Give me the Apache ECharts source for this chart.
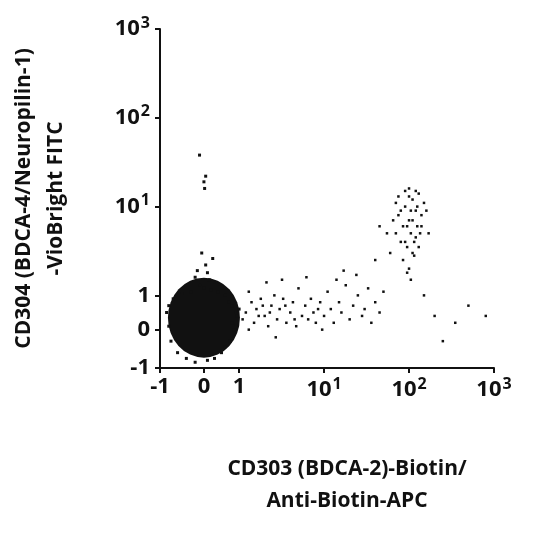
<!DOCTYPE html>
<html>
<head>
<meta charset="utf-8">
<script src="https://cdn.jsdelivr.net/npm/echarts@6/dist/echarts.min.js"></script>
<style>html,body{margin:0;background:#fff}#c{width:540px;height:540px}</style>
</head>
<body>
<div id="c"></div>
<script>
// tick values (real units), shown on biexponential-like axes
var xTicks = [-1, 0, 1, 10, 100, 1000];
var yTicks = [-1, 0, 1, 10, 100, 1000];

// dense central population (drawn as one big ellipse + fringe events)
var blobCenter = [[0, 0.35]];
var fringe = [
  [-0.8, 0.1], [-0.7, 0.9], [-0.6, -0.6], [0.7, 0.8], [0.8, 0.2], [0.9, 0.5], [-0.3, 1.1], [0.2, 1.15],
  [0.1, -0.8], [-0.4, -0.75], [0.5, -0.6], [0.95, 0.4], [-0.85, 0.5], [0.4, 1.1], [-0.1, 1.3], [0.3, 1.4],
  [-0.2, 1.6], [0.1, 1.8], [0.05, 2.2], [-0.05, 3.0], [0.0, 19], [0.05, 22], [-0.1, 38], [0.02, 16],
  [0.85, 0.0], [0.8, 0.7], [0.75, -0.3], [-0.75, -0.3], [-0.8, 0.7], [0.6, 1.0], [-0.5, 1.05], [0.0, 1.2],
  [0.3, -0.75], [-0.2, -0.85], [0.6, -0.45], [0.9, 0.15], [1.0, 0.6], [0.15, 1.5], [-0.15, 1.9], [0.25, 2.6]
];
// sparse band between the populations
var band = [
  [1.2, 0.5], [1.4, 0.8], [1.5, 0.2], [1.6, 0.6], [1.8, 0.9], [2.0, 0.4], [2.2, 0.1], [2.4, 0.7],
  [2.6, 1.0], [2.8, 0.3], [3.0, 0.6], [3.3, 0.9], [3.6, 0.2], [4.0, 0.5], [4.3, 0.8], [4.7, 0.1],
  [5.0, 1.2], [5.5, 0.4], [6.0, 0.7], [6.5, 0.3], [7.0, 0.9], [7.5, 0.5], [8.0, 0.2], [9.0, 0.8],
  [10, 0.4], [11, 1.1], [12, 0.6], [13, 0.2], [15, 0.8], [16, 0.5], [18, 1.3], [20, 0.3],
  [22, 0.7], [25, 1.0], [28, 0.4], [30, 0.6], [33, 1.2], [36, 0.2], [40, 0.8], [45, 0.5],
  [50, 1.1], [3.2, 1.5], [2.1, 1.4], [6.2, 1.6], [1.3, 0.0], [9.5, 0.0], [2.7, -0.2], [14, 1.5],
  [17, 1.9], [24, 1.7], [150, 1.0], [200, 0.4], [350, 0.2], [500, 0.7], [800, 0.4], [250, -0.3],
  [1.1, 0.3], [1.3, 1.1], [1.7, 0.4], [1.9, 0.7], [2.3, 0.5], [3.5, 0.7], [4.5, 0.3], [8.5, 0.6]
];
// upper right population
var high = [
  [60, 3], [70, 5], [75, 8], [80, 4], [85, 6], [90, 10], [95, 3.5], [100, 7], [105, 5], [110, 12],
  [115, 4], [120, 9], [125, 6], [130, 14], [135, 5], [140, 8], [150, 11], [90, 15], [100, 13],
  [80, 9], [110, 7], [70, 11], [95, 6], [120, 4.5], [105, 9], [85, 2.5], [100, 2], [115, 2.8],
  [130, 3.5], [65, 7], [140, 6], [55, 5], [160, 9], [75, 13], [90, 4], [110, 3], [125, 10],
  [95, 1.8], [105, 1.5], [40, 2.5], [45, 6], [170, 5], [100, 16], [120, 15]
];

function tx(v) { return v >= 1 ? Math.log10(v) : (v >= 0 ? -0.414 * (1 - v) : -0.414 + 0.517 * v); }
function ty(v) { return v >= 1 ? Math.log10(v) : (v >= 0 ? -0.386 * (1 - v) : -0.386 + 0.432 * v); }
function conv(arr) { return arr.map(function (p) { return [tx(p[0]), ty(p[1])]; }); }

function lab(v) {
  if (v === 10) return '10{s|1}';
  if (v === 100) return '10{s|2}';
  if (v === 1000) return '10{s|3}';
  return String(v);
}
var xMap = {}, yMap = {};
xTicks.forEach(function (v) { xMap[tx(v).toFixed(4)] = lab(v); });
yTicks.forEach(function (v) { yMap[ty(v).toFixed(4)] = lab(v); });
var rich = { s: { fontSize: 16, fontWeight: 'bold', verticalAlign: 'top', padding: [0, 0, 12, 1], color: '#111', fontFamily: 'Open Sans' } };

var chart = echarts.init(document.getElementById('c'));
chart.setOption({
  animation: false,
  textStyle: { fontFamily: 'Open Sans' },
  grid: { left: 152, right: 46, top: 29, bottom: 172 },
  xAxis: {
    type: 'value', min: tx(-1), max: tx(1000), splitLine: { show: false },
    axisLine: { onZero: false, lineStyle: { color: '#111', width: 2 } },
    axisTick: { customValues: xTicks.map(tx), length: 5, lineStyle: { color: '#111', width: 2 } },
    axisLabel: {
      customValues: xTicks.map(tx), fontSize: 22, fontWeight: 'bold', color: '#111', margin: 8, rich: rich,
      formatter: function (v) { return xMap[v.toFixed(4)] || ''; }
    },
    name: 'CD303 (BDCA-2)-Biotin/\nAnti-Biotin-APC', nameLocation: 'middle', nameGap: 85,
    nameTextStyle: { fontSize: 21, fontWeight: 'bold', color: '#111', lineHeight: 32, padding: [0, 0, 0, 40] }
  },
  yAxis: {
    type: 'value', min: ty(-1), max: ty(1000), splitLine: { show: false },
    axisLine: { onZero: false, lineStyle: { color: '#111', width: 2 } },
    axisTick: { customValues: yTicks.map(ty), length: 5, lineStyle: { color: '#111', width: 2 } },
    axisLabel: {
      customValues: yTicks.map(ty), fontSize: 22, fontWeight: 'bold', color: '#111', margin: 10, rich: rich,
      formatter: function (v) { return yMap[v.toFixed(4)] || ''; }
    },
    name: 'CD304 (BDCA-4/Neuropilin-1)\n-VioBright FITC', nameLocation: 'middle', nameGap: 88,
    nameTextStyle: { fontSize: 21, fontWeight: 'bold', color: '#111', lineHeight: 32 }
  },
  series: [
    { type: 'scatter', data: conv(blobCenter), symbol: 'circle', symbolSize: [72, 80], itemStyle: { color: '#111', opacity: 1 } },
    { type: 'scatter', data: conv(fringe), symbol: 'rect', symbolSize: 3, itemStyle: { color: '#111', opacity: 1 } },
    { type: 'scatter', data: conv(band), symbol: 'rect', symbolSize: 2.5, itemStyle: { color: '#111', opacity: 1 } },
    { type: 'scatter', data: conv(high), symbol: 'rect', symbolSize: 2.5, itemStyle: { color: '#111', opacity: 1 } }
  ]
});
</script>
</body>
</html>
